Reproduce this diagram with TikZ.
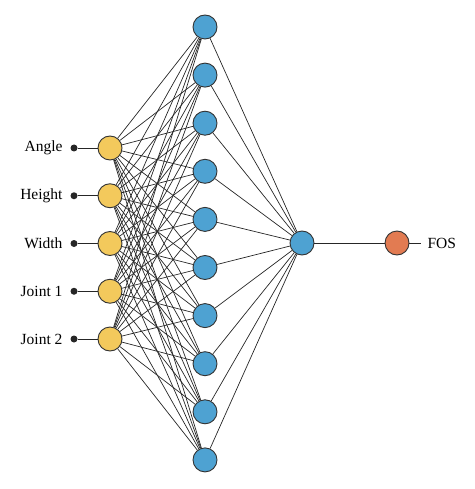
\documentclass[tikz,border=0pt]{standalone}
\usepackage{fontspec}
\setmainfont{Liberation Serif}
\definecolor{inyellow}{HTML}{F3C95C}
\definecolor{hidblue}{HTML}{4EA2D2}
\definecolor{outorange}{HTML}{E27B52}
\begin{document}
\begin{tikzpicture}[x=1pt, y=-1pt,
  neuron/.style = {shape=circle, draw=black!80, line width=0.9pt,
    minimum size=24pt, inner sep=0pt},
  input/.style = {neuron, fill=inyellow},
  hidden/.style = {neuron, fill=hidblue},
  output/.style = {neuron, fill=outorange},
  pin/.style = {shape=circle, fill=black!85, minimum size=7pt, inner sep=0pt},
  link/.style = {draw=black!85, line width=0.7pt},
  lbl/.style = {anchor=east, font=\fontsize{15.5}{18}\selectfont}
  ]
  \useasboundingbox (0,0) rectangle (474,489);
  % inputs
  \foreach \name [count=\i] in {Angle, Height, Width, Joint 1, Joint 2} {
    \node[input] (in\i) at (110, {148+47.75*(\i-1)}) {};
    \node[pin] (pin\i) at (74, {148+47.75*(\i-1)}) {};
    \node[lbl] (lbl\i) at (66, {148+47.75*(\i-1)}) {\name};
  }
  % hidden layer
  \foreach \j in {1,...,10}
    \node[hidden] (hid\j) at (205, {27+48.1*(\j-1)}) {};
  \node[hidden] (mid) at (302, 243) {};
  \node[output] (fos) at (397, 243) {};
  \coordinate (fosend) at (421, 243);
  \node[anchor=west, font=\fontsize{15.5}{18}\selectfont] (fostxt) at (424, 243) {FOS};
  % connections
  \begin{scope}[on background layer/.try]
  \foreach \i in {1,...,5} {
    \draw[link] (pin\i) -- (in\i);
    \foreach \j in {1,...,10}
      \draw[link] (in\i) -- (hid\j);
  }
  \foreach \j in {1,...,10}
    \draw[link] (hid\j) -- (mid);
  \draw[link] (mid) -- (fos);
  \draw[link] (fos) -- (fosend);
  \end{scope}
\end{tikzpicture}
\end{document}
